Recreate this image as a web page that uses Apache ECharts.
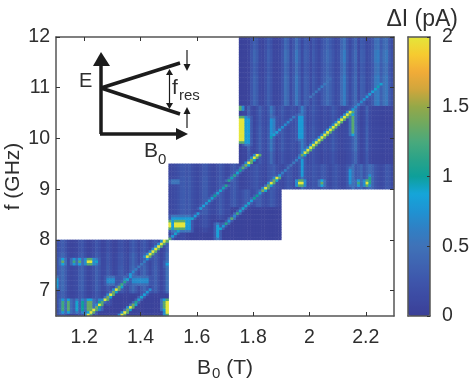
<!DOCTYPE html>
<html><head><meta charset="utf-8">
<style>html,body{margin:0;padding:0;background:#fff}#c{width:474px;height:384px}</style>
<script src="https://cdn.jsdelivr.net/npm/echarts@6/dist/echarts.min.js"></script>
</head><body><div id="c"></div>
<script>
// Axis definitions
const B_MIN = 1.1, B_MAX = 2.3, B_STEP = 0.01;
const F_MIN = 6.5, F_MAX = 12, F_STEP = 0.05;
const xTicks = [1.2, 1.4, 1.6, 1.8, 2, 2.2];
const yTicks = [7, 8, 9, 10, 11, 12];
const barTicks = [0, 0.5, 1, 1.5, 2];
const colours = ['#3b3f97','#3c4aa2','#3e56ab','#3f64b2','#3f72b8','#3080c4','#1f92d2','#15a5da','#0e9f9a','#2aa388','#4aa97c','#6ea960','#94a848','#d0a63c','#f2ab38','#f6cb30','#e4e63a'];

// Background stripe level of each 0.01 T column, read per measurement block
const stripesA = [.25,.35,.45,.3,.15,.1,.12,.15,.3,.35,.2,.1,.12,.2,.35,.25,.12,.15,.3,.2,.1,.12,.25,.3,.18,.12,.3,.45,.3,.15,.3,.4,.25,.12,.25,.35,.2,.1,.2,.5];
const stripesB = [.1,.12,.15,.2,.28,.3,.25,.3,.2,.15,.12,.2,.3,.3,.18,.12,.12,.2,.3,.22,.12,.15,.25,.3,.2,.15,.22,.3,.28,.15,.18,.3,.32,.2,.15,.2,.3,.25,.15,.1];
const stripesCLow = [.1,.1,.12,.15,.2,.25,.3,.2,.15,.12,.25,.3,.35,.2,.15,.12,.2,.3,.25,.15,.15,.2,.5,.3,.2,.2,.3,.25,.2,.3,.3,.2,.15,.25,.3,.2,.12,.15,.25,.3,.55,.3,.35,.45,.25,.4,.5,.4,.25,.2,.15,.2,.3,.25,.15];
const stripesCMid = [.05,.1,.1,.35,.15,.1,.2,.35,.2,.15,.3,.55,.3,.12,.2,.3,.2,.15,.2,.2,.15,.3,.6,.35,.15,.2,.3,.2,.15,.12,.2,.15,.2,.3,.2,.12,.1,.12,.15,.2,.35,.5,.2,.1,.15,.35,.15,.1,.1,.1,.08,.08,.08,.08,.08];
const stripesCTop = [.05,.05,.05,.08,.25,.4,.3,.12,.1,.2,.35,.25,.1,.1,.12,.25,.5,.4,.15,.3,.55,.35,.15,.35,.3,.15,.3,.2,.12,.25,.35,.45,.35,.25,.15,.2,.45,.6,.3,.15,.3,.45,.15,.35,.3,.15,.2,.3,.55,.6,.35,.5,.55,.3,.2];
// Relative strength of the stripes per 0.25 GHz band, low to high frequency
const bandsA = [.7,.8,1,1,.9,.7];
const bandsB = [.4,.7,1,1,1,.9];
const bandsC = [.9,.9,.8,1,1,.9,1,1,1,.9,1,.85];
// Areas with almost no signal: [B from, B to, f from, f to]
const quiet = [[1.25,1.5,6.5,6.7],[1.3,1.5,6.7,6.95],[1.56,1.9,8,8.15],[1.65,1.9,8.15,8.4],[1.72,1.9,8.4,8.65]];
// Localised signal: [B from, B to, f from, f to, value in pA]
const spotsA = [[1.12,1.13,7.5,7.65,1.35],[1.16,1.17,7.5,7.65,1.2],[1.18,1.19,7.5,7.65,1.3],[1.21,1.23,7.5,7.65,2],[1.24,1.25,7.5,7.65,.9],
 [1.12,1.13,6.55,6.85,1.2],[1.14,1.15,6.55,6.85,1.3],[1.17,1.18,6.55,6.85,.9],[1.19,1.2,6.55,6.85,1],[1.21,1.23,6.55,6.85,1.35],[1.25,1.26,6.6,6.85,1],
 [1.1,1.11,7,7.3,.8],[1.28,1.31,7.1,7.3,.7],[1.34,1.35,7.1,7.3,.65],[1.37,1.43,7.1,7.3,.7],[1.39,1.41,7.15,7.25,.85],[1.49,1.5,6.5,6.85,2],[1.48,1.49,6.6,6.85,1.3],[1.49,1.5,7.45,7.6,.85]];
const spotsB = [[1.51,1.58,8.15,8.5,.8],[1.525,1.56,8.2,8.4,2],[1.5,1.51,8.2,8.4,2],[1.51,1.54,9.1,9.2,.8],[1.67,1.68,8,8.35,.85]];
const spotsC = [[1.75,1.76,10.55,10.65,2],[1.75,1.77,9.9,10.45,2],[1.77,1.79,9.85,10.45,.8],[1.86,1.87,9.95,10.45,.75],[1.87,1.88,10.05,10.45,.6],[1.96,1.98,9.95,10.5,.8],[2.15,2.16,10.05,10.5,1.3],
 [1.96,1.98,9.05,9.2,2],[1.97,1.98,9.2,9.65,.8],[2.04,2.05,9.05,9.2,1.35],[2.14,2.15,9.05,9.45,.75],[2.17,2.18,9.05,9.2,1.2],[2.2,2.21,9.05,9.2,2],[2.21,2.22,9.05,9.3,1.1]];
// Resonance lines. Each run starts at [B, f]; its values follow the line cell by cell (+0.01 T, +0.05 GHz)
const ridges = [
 [1.21,6.5,[2,2,2,1.4,2,1.3,2,1.4,2,1.4,2,1.4,1.2,1.1,.9,.8]],
 [1.36,7.3,[.8,.7,.6,.55,.55,.6,.75]],
 [1.42,7.65,[2,2,2,2,2,2,2,2]],
 [1.33,6.5,[2,2,1.4,2,1.4,1.1,.9,.9,.85,.8,.75]],
 [1.5,8,[.8,.8,.9,.9,.9,.85,.85,.8,.9,.85,.8]],
 [1.61,8.6,[.8,.85,.8,.9,.9,1,.9,.9,.95,1.1]],
 [1.71,9.15,[1.1,.95,1.1,.9,1,1.3,1.4,2,1.4,2,2]],
 [1.68,8.2,[.9,.8,1.1,.8,1.3,.7,1.2,.9,.9,.9,.9,.85,1,1,.9,1.4,2,1.4,2,1.4,2,.8,.6,.6,.5,.5,.55,.6,.7,1.4,2,2,2,2,2,2,2,2,2,2,2,2,2,2,2,2,2,.8,.7,.65,.7,.75,.8,.85,.85,.9,.95,.9]],
 [1.86,10,[.95,.9,.85,.8,.75,.7,.7,.6,.6]],
 [2,10.8,[.5,.5,.55,.55,.6,.55,.5,.45]]
];

const nx = Math.round((B_MAX - B_MIN) / B_STEP), ny = Math.round((F_MAX - F_MIN) / F_STEP);
const xi = b => Math.round((b - B_MIN) / B_STEP), yi = f => Math.round((f - F_MIN) / F_STEP);
const xCats = Array.from({length: nx}, (_, i) => (B_MIN + i * B_STEP).toFixed(2));
const yCats = Array.from({length: ny}, (_, i) => (F_MIN + i * F_STEP).toFixed(2));
const cells = new Map(), key = (i, j) => i + ',' + j;
function fillBlock(b0, b1, f0, f1, stripes, bands, fBase) {
  for (let i = xi(b0); i < xi(b1); i++) for (let j = yi(f0); j < yi(f1); j++) {
    const band = bands[Math.floor((j - yi(fBase)) / 5)];
    cells.set(key(i, j), stripes[i - xi(b0)] * band);
  }
}
fillBlock(1.1, 1.5, 6.5, 8, stripesA, bandsA, 6.5);
fillBlock(1.5, 1.9, 8, 9.5, stripesB, bandsB, 8);
fillBlock(1.75, 2.3, 9, 9.5, stripesCLow, bandsC, 9);
fillBlock(1.75, 2.3, 9.5, 10.65, stripesCMid, bandsC, 9);
fillBlock(1.75, 2.3, 10.65, 12, stripesCTop, bandsC, 9);
for (const [b0, b1, f0, f1] of quiet) for (let i = xi(b0); i < xi(b1); i++) for (let j = yi(f0); j < yi(f1); j++)
  if (cells.has(key(i, j))) cells.set(key(i, j), .04);
const raise = (i, j, v) => { const k = key(i, j); if (cells.has(k) && cells.get(k) < v) cells.set(k, v); };
for (const [b0, b1, f0, f1, v] of [...spotsA, ...spotsB, ...spotsC]) {
  const i1 = Math.max(xi(b1), xi(b0) + 1);
  for (let i = xi(b0); i < i1; i++) for (let j = yi(f0); j < yi(f1); j++) {
    raise(i, j, (j === yi(f0) || j === yi(f1) - 1) ? v * .65 : v);
    raise(i - 1, j, v * .35); raise(i + 1, j, v * .35);
  }
}
for (const [b, f, vals] of ridges) vals.forEach((v, k) => {
  const i = xi(b) + k, j = yi(f) + k;
  raise(i, j, v); raise(i - 1, j, v * .35); raise(i + 1, j, v * (v > 1.3 ? .65 : .35));
});
const heat = [...cells].map(([k, v]) => { const [i, j] = k.split(',').map(Number); return [i, j, v]; });

const font = 'Liberation Sans', ink = '#2e2e2e', frame = '#555';
const hiddenAxis = (gridIndex, extra) => Object.assign({gridIndex, type: 'value', min: 0, max: 1, z: 10, splitLine: {show: false}, axisLine: {show: true, onZero: false, lineStyle: {color: frame, width: 1.5}}, axisTick: {show: false}, axisLabel: {show: false}}, extra);
const tickAxis = (min, max, ticks, position, labels, extra) => Object.assign({
  gridIndex: 0, type: 'value', min, max, position, z: 10, splitLine: {show: false},
  axisLine: {show: true, onZero: false, lineStyle: {color: frame, width: 1.5}},
  axisTick: {show: true, inside: true, length: 4, customValues: ticks, lineStyle: {color: '#333', width: 1}},
  axisLabel: {show: labels, customValues: ticks, fontFamily: font, fontSize: 19.5, color: ink, margin: labels && (position === 'bottom') ? 12 : 6, showMinLabel: true, showMaxLabel: true, hideOverlap: false, formatter: v => String(v)}
}, extra);

const chart = echarts.init(document.getElementById('c'), null, {renderer: 'canvas'});
const line = (x1, y1, x2, y2, w) => ({type: 'line', shape: {x1, y1, x2, y2}, style: {stroke: '#1c1c1c', lineWidth: w}, z: 50});
const head = (pts) => ({type: 'polygon', shape: {points: pts}, style: {fill: '#1c1c1c'}, z: 50});
const txt = (x, y, text, size, extra) => ({type: 'text', x, y, z: 50, style: Object.assign({text, fontFamily: font, fontSize: size, fill: ink}, extra || {})});
chart.setOption({
  animation: false, backgroundColor: '#fff',
  grid: [{left: 56, width: 338, top: 37, height: 279, outerBoundsMode: 'none'}, {left: 408, width: 22, top: 37, height: 279, outerBoundsMode: 'none'}],
  xAxis: [
    {gridIndex: 0, type: 'category', data: xCats, show: false},
    tickAxis(B_MIN, B_MAX, xTicks, 'bottom', true, {name: '{n|B}{s|0}{n| (T)}', nameLocation: 'middle', nameGap: 40, nameTextStyle: {rich: {n: {fontFamily: font, fontSize: 21, color: ink}, s: {fontFamily: font, fontSize: 15, color: ink, padding: [10, 0, 0, 1]}}}}),
    tickAxis(B_MIN, B_MAX, xTicks, 'top', false),
    hiddenAxis(1, {position: 'bottom'}), hiddenAxis(1, {position: 'top'})
  ],
  yAxis: [
    {gridIndex: 0, type: 'category', data: yCats, show: false},
    tickAxis(F_MIN, F_MAX, yTicks, 'left', true, {name: 'f (GHz)', nameLocation: 'middle', nameGap: 32, nameMoveOverlap: false, nameRotate: 90, nameTextStyle: {fontFamily: font, fontSize: 21, color: ink}}),
    tickAxis(F_MIN, F_MAX, yTicks, 'right', false),
    hiddenAxis(1, {position: 'left'}),
    Object.assign(hiddenAxis(1, {position: 'right', min: 0, max: 2}), {axisTick: {show: true, inside: true, length: 3, customValues: barTicks, lineStyle: {color: '#333'}}, axisLabel: {show: true, customValues: barTicks, fontFamily: font, fontSize: 19.5, color: ink, margin: 12, formatter: v => String(v)}})
  ],
  visualMap: {type: 'continuous', seriesIndex: 0, min: 0, max: 2, calculable: false, hoverLink: false, left: 408, top: 37, padding: 0, itemWidth: 22, itemHeight: 279, text: null, showLabel: false, inRange: {color: colours}, textStyle: {fontSize: 0}},
  series: [{type: 'heatmap', xAxisIndex: 0, yAxisIndex: 0, data: heat, progressive: 0, emphasis: {disabled: true}}],
  graphic: [
    line(101, 134, 101, 62, 3.5), head([[101,52],[93,66],[110,66]]),
    line(100, 134, 179, 134, 3.5), head([[188,134],[176,128],[176,140]]),
    line(101, 88, 180, 63, 3.5), line(101, 88, 180, 114, 3.5),
    line(169.5, 72, 169.5, 106, 1.2), head([[169.5,69],[166,75],[173,75]]), head([[169.5,109],[166,103],[173,103]]),
    line(187, 50, 187, 69, 1.2), head([[187,71],[183.5,64],[190.5,64]]),
    line(187, 110, 187, 128, 1.2), head([[187,107],[183.5,114],[190.5,114]]),
    txt(79, 71, 'E', 20),
    txt(172, 78, 'f', 21),
    txt(179, 88, 'res', 15),
    txt(144, 141, 'B', 21),
    txt(158, 152, '0', 15),
    txt(458, 8, 'ΔI (pA)', 23, {align: 'right'})
  ]
});
</script></body></html>
